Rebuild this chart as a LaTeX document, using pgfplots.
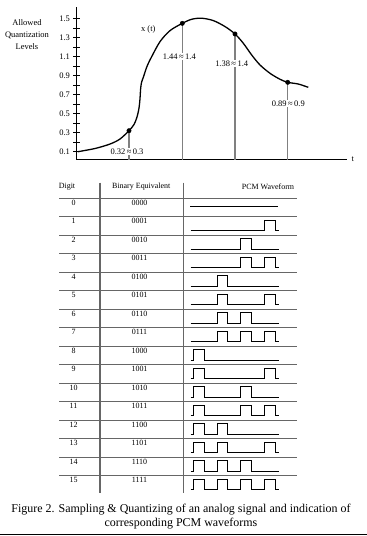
\documentclass[border=0pt]{standalone}
\usepackage{pgfplots}
\pgfplotsset{compat=1.18}
\usepackage{fontspec}
\setmainfont{Liberation Serif}
\pgfplotsset{wave/.style={black, line width=1bp, const plot, mark=none, solid}}
\begin{document}
\begin{tikzpicture}
\useasboundingbox (0,0) rectangle (367bp,-536bp);
% ---------------- top chart ----------------
\begin{axis}[
  at={(76.7bp,-159.5bp)}, anchor=south west,
  scale only axis, width=270.6bp, height=152bp,
  xmin=76.7, xmax=347.3, ymin=0.018, ymax=1.621,
  axis x line=bottom, axis y line=left,
  axis line style={-, line width=1.2bp, black},
  xtick=\empty,
  ytick={0.1,0.3,0.5,0.7,0.9,1.1,1.3,1.5},
  minor ytick={0.2,0.4,0.6,0.8,1.0,1.2,1.4},
  tick align=center, major tick length=6.5bp, minor tick length=6.5bp,
  every tick/.style={black, line width=1bp},
  yticklabel style={font=\fontsize{8.5}{9}\selectfont, /pgf/number format/.cd, fixed, fixed zerofill, precision=1, assume math mode=true},
  clip=false,
]
\addplot[black!50, line width=1.1bp] coordinates {(129,0.322) (129,0.018)};
\addplot[black!50, line width=1.1bp] coordinates {(182.3,1.454) (182.3,0.018)};
\addplot[black!50, line width=1.1bp] coordinates {(235,1.342) (235,0.018)};
\addplot[black!50, line width=1.1bp] coordinates {(287.7,0.832) (287.7,0.018)};
\addplot[black, line width=1.3bp, smooth, tension=0.5] coordinates {
(77.7,0.100) (95,0.134) (110,0.181) (120,0.234) (129,0.322) (134,0.387)
(137,0.466) (139,0.561) (140,0.66) (140.6,0.76) (141.5,0.83) (143.5,0.89)
(147,1.0) (151.7,1.103) (160,1.261) (170,1.377) (182.3,1.454) (191.7,1.497)
(201.7,1.508) (213.3,1.483) (225,1.420) (235,1.342) (243.3,1.244) (251.7,1.120)
(260,1.015) (270,0.927) (280,0.864) (287.7,0.832) (298.3,0.814) (308.3,0.779)};
\addplot[black, only marks, mark=*, mark size=2.2bp] coordinates {(129,0.322) (182.3,1.454) (235,1.342) (287.7,0.832)};
\end{axis}
% ---------------- PCM waveforms ----------------
\begin{axis}[at={(0,0)}, anchor=north west, scale only axis, width=367bp, height=536bp,
  xmin=0, xmax=367, ymin=0, ymax=536, y dir=reverse, hide axis, clip=false]
% 0000
\addplot[wave] coordinates {(190,206) (278,206)};
% 0001
\addplot[wave] coordinates {(190.5,230.8) (193.5,230.8) (204.3,230.8) (217,230.8) (227.8,230.8) (240.8,230.8) (251.6,230.8) (264.6,220.3) (275.4,230.8) (279,230.8)};
% 0010
\addplot[wave] coordinates {(190.5,249.3) (193.5,249.3) (204.3,249.3) (217,249.3) (227.8,249.3) (240.8,238.8) (251.6,249.3) (264.6,249.3) (275.4,249.3) (279,249.3)};
% 0011
\addplot[wave] coordinates {(190.5,267.8) (193.5,267.8) (204.3,267.8) (217,267.8) (227.8,267.8) (240.8,257.3) (251.6,267.8) (264.6,257.3) (275.4,267.8) (279,267.8)};
% 0100
\addplot[wave] coordinates {(190.5,286.3) (193.5,286.3) (204.3,286.3) (217,275.8) (227.8,286.3) (240.8,286.3) (251.6,286.3) (264.6,286.3) (275.4,286.3) (279,286.3)};
% 0101
\addplot[wave] coordinates {(190.5,304.8) (193.5,304.8) (204.3,304.8) (217,294.3) (227.8,304.8) (240.8,304.8) (251.6,304.8) (264.6,294.3) (275.4,304.8) (279,304.8)};
% 0110
\addplot[wave] coordinates {(190.5,323.3) (193.5,323.3) (204.3,323.3) (217,312.8) (227.8,323.3) (240.8,312.8) (251.6,323.3) (264.6,323.3) (275.4,323.3) (279,323.3)};
% 0111
\addplot[wave] coordinates {(190.5,341.8) (193.5,341.8) (204.3,341.8) (217,331.3) (227.8,341.8) (240.8,331.3) (251.6,341.8) (264.6,331.3) (275.4,341.8) (279,341.8)};
% 1000
\addplot[wave] coordinates {(190.5,360.3) (193.5,349.8) (204.3,360.3) (217,360.3) (227.8,360.3) (240.8,360.3) (251.6,360.3) (264.6,360.3) (275.4,360.3) (279,360.3)};
% 1001
\addplot[wave] coordinates {(190.5,378.8) (193.5,368.3) (204.3,378.8) (217,378.8) (227.8,378.8) (240.8,378.8) (251.6,378.8) (264.6,368.3) (275.4,378.8) (279,378.8)};
% 1010
\addplot[wave] coordinates {(190.5,397.3) (193.5,386.8) (204.3,397.3) (217,397.3) (227.8,397.3) (240.8,386.8) (251.6,397.3) (264.6,397.3) (275.4,397.3) (279,397.3)};
% 1011
\addplot[wave] coordinates {(190.5,415.8) (193.5,405.3) (204.3,415.8) (217,415.8) (227.8,415.8) (240.8,405.3) (251.6,415.8) (264.6,405.3) (275.4,415.8) (279,415.8)};
% 1100
\addplot[wave] coordinates {(190.5,434.3) (193.5,423.8) (204.3,434.3) (217,423.8) (227.8,434.3) (240.8,434.3) (251.6,434.3) (264.6,434.3) (275.4,434.3) (279,434.3)};
% 1101
\addplot[wave] coordinates {(190.5,452.8) (193.5,442.3) (204.3,452.8) (217,442.3) (227.8,452.8) (240.8,452.8) (251.6,452.8) (264.6,442.3) (275.4,452.8) (279,452.8)};
% 1110
\addplot[wave] coordinates {(190.5,471.3) (193.5,460.8) (204.3,471.3) (217,460.8) (227.8,471.3) (240.8,460.8) (251.6,471.3) (264.6,471.3) (275.4,471.3) (279,471.3)};
% 1111
\addplot[wave] coordinates {(190.5,489.8) (193.5,479.3) (204.3,489.8) (217,479.3) (227.8,489.8) (240.8,479.3) (251.6,489.8) (264.6,479.3) (275.4,489.8) (279,489.8)};
\end{axis}
% ---------------- text and rules ----------------
\begin{scope}[x=1bp,y=-1bp]
\foreach \yy in {198.3,216.8,235.3,253.8,272.3,290.8,309.3,327.8,346.3,364.8,383.3,401.8,420.3,438.8,457.3,475.8}
  \draw[black!60, line width=1.1bp] (59.3,\yy) -- (296.7,\yy);
\draw[black!60, line width=1.1bp] (100,182.7) -- (100,493.3);
\draw[black!60, line width=1.1bp] (183.3,182.7) -- (183.3,493.3);
\begin{scope}[every node/.style={font=\fontsize{8}{9}\selectfont, inner sep=0pt}]
\node at (67,186.7) {Digit};
\node at (141.3,186.7) {Binary Equivalent};
\node at (268,186.7) {PCM Waveform};
\foreach \d/\b in {0/0000,1/0001,2/0010,3/0011,4/0100,5/0101,6/0110,7/0111,8/1000,9/1001,10/1010,11/1011,12/1100,13/1101,14/1110,15/1111}{
  \pgfmathsetmacro\yy{202.8+18.5*\d}
  \node at (73.5,\yy) {\d};
  \node at (139.5,\yy) {\b};
}
\end{scope}
\begin{scope}[every node/.style={font=\fontsize{8.5}{9}\selectfont, fill=white, inner sep=0.8bp}]
\node at (127,151.7) {0.32\,≈\,0.3};
\node at (179.3,56.7) {1.44\,≈\,1.4};
\node at (231.7,63.5) {1.38\,≈\,1.4};
\node at (288.3,103.3) {0.89\,≈\,0.9};
\end{scope}
\node[font=\fontsize{8.5}{9}\selectfont, inner sep=0pt] at (148.3,29.3) {x (t)};
\node[font=\fontsize{8.5}{9}\selectfont, inner sep=0pt] at (352.7,159.5) {t};
\node[align=center, font=\fontsize{8.5}{12.2}\selectfont, inner sep=0pt] at (27,34.5) {Allowed\\Quantization\\Levels};
\node[align=center, font=\fontsize{12}{13.3}\selectfont, inner sep=0pt] at (181,516.7) {Figure 2. Sampling \& Quantizing of an analog signal and indication of\\corresponding PCM waveforms};
\draw[black, line width=1.2bp] (0,534.8) -- (367,534.8);
\end{scope}
\end{tikzpicture}
\end{document}
